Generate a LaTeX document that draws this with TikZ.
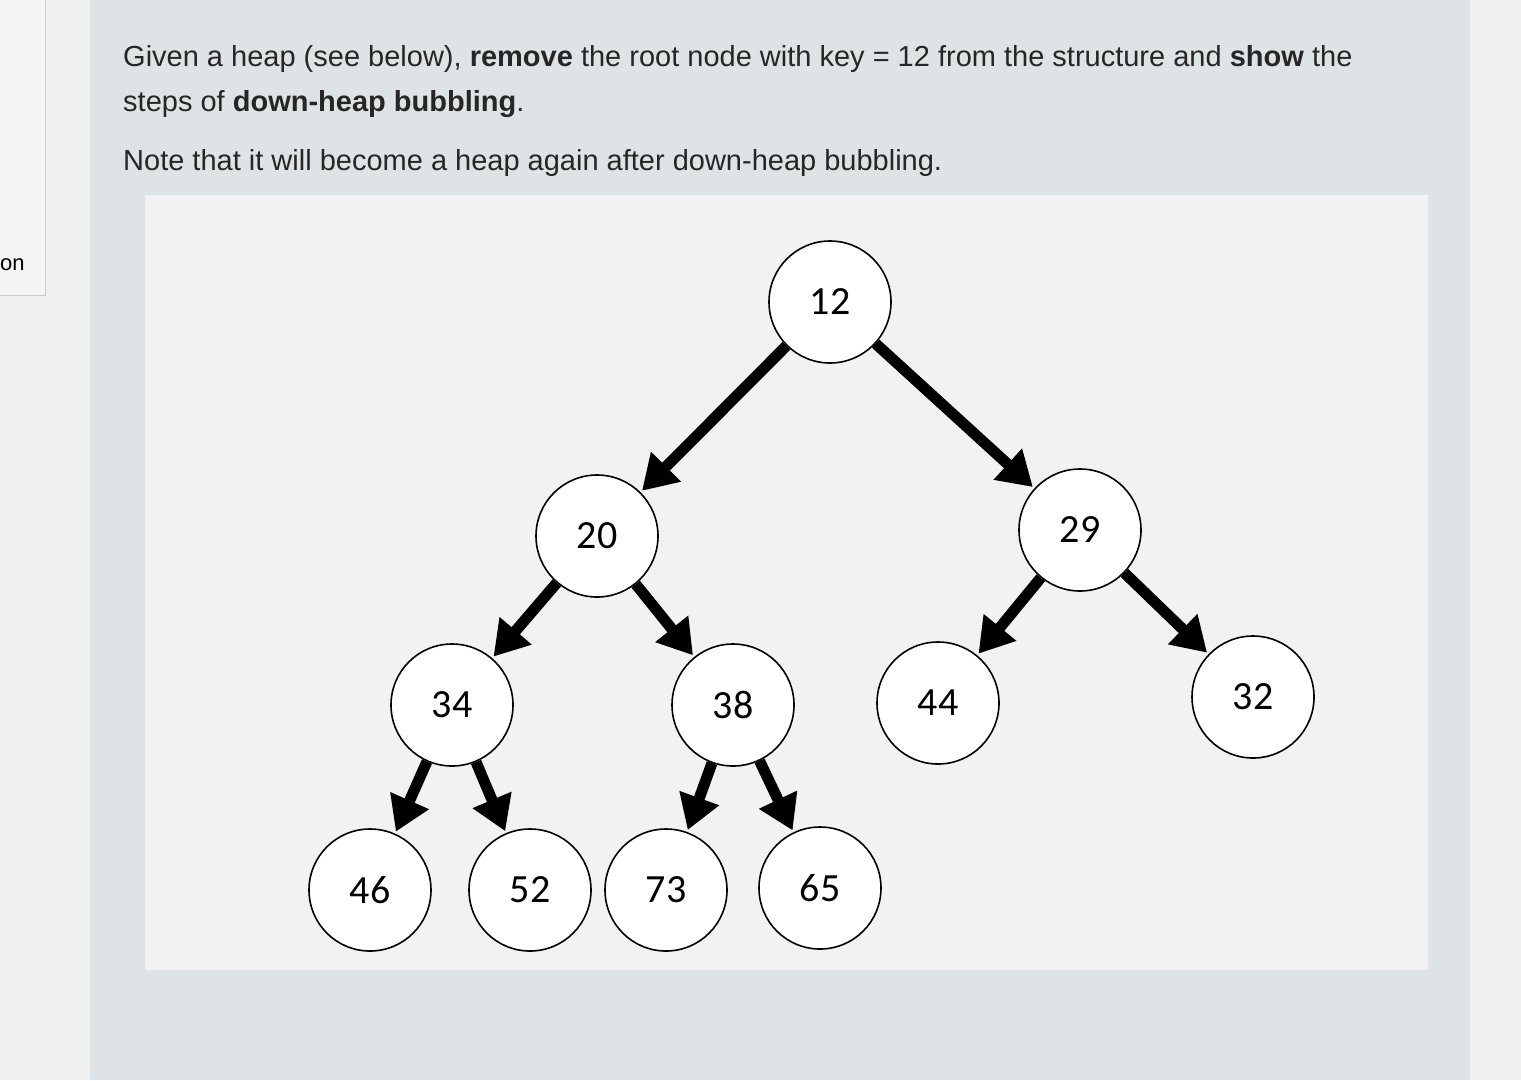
\documentclass[tikz,border=0pt]{standalone}
\usepackage{fontspec}
\setmainfont{Liberation Sans}
\newfontfamily\numfont{Carlito}
\usetikzlibrary{arrows.meta}
\begin{document}
\begin{tikzpicture}[x=1pt,y=-1pt,
  hnode/.style={circle,draw=black,line width=1.6pt,fill=white,minimum size=122pt,inner sep=0pt,font=\numfont\fontsize{40}{44}\selectfont},
  harrow/.style={line width=11pt,-{Triangle[length=34pt,width=40pt]},shorten >=2pt},
  qtext/.style={anchor=base west,inner sep=0pt,font=\fontsize{29}{34}\selectfont,text=black!85}]
\useasboundingbox (0,0) rectangle (1521,1080);
\fill[gray!12] (0,0) rectangle (1521,1080);
\fill[fill={rgb,255:red,222;green,228;blue,230}] (90,0) rectangle (1470,1080);
\fill[gray!8] (0,0) rectangle (45,295);
\draw[gray!40] (45,0) -- (45,295) -- (0,295);
\node[anchor=base west,inner sep=0pt,font=\fontsize{22}{26}\selectfont] (on) at (0,270) {on};
\fill[gray!10] (145,195) rectangle (1428,970);
\node[qtext] (l1) at (123,66) {Given a heap (see below), \textbf{remove} the root node with key = 12 from the structure and \textbf{show} the};
\node[qtext] (l2) at (123,111) {steps of \textbf{down-heap bubbling}.};
\node[qtext] (l3) at (123,170) {Note that it will become a heap again after down-heap bubbling.};
\node[hnode] (n12) at (830,302) {12};
\node[hnode] (n20) at (597,536) {20};
\node[hnode] (n29) at (1080,530) {29};
\node[hnode] (n34) at (452,705) {34};
\node[hnode] (n38) at (733,705) {38};
\node[hnode] (n44) at (938,703) {44};
\node[hnode] (n32) at (1253,697) {32};
\node[hnode] (n46) at (370,890) {46};
\node[hnode] (n52) at (530,890) {52};
\node[hnode] (n73) at (666,890) {73};
\node[hnode] (n65) at (820,888) {65};
\draw[harrow] (n12) -- (n20);
\draw[harrow] (n12) -- (n29);
\draw[harrow] (n20) -- (n34);
\draw[harrow] (n20) -- (n38);
\draw[harrow] (n29) -- (n44);
\draw[harrow] (n29) -- (n32);
\draw[harrow] (n34) -- (n46);
\draw[harrow] (n34) -- (n52);
\draw[harrow] (n38) -- (n73);
\draw[harrow] (n38) -- (n65);
\end{tikzpicture}
\end{document}
